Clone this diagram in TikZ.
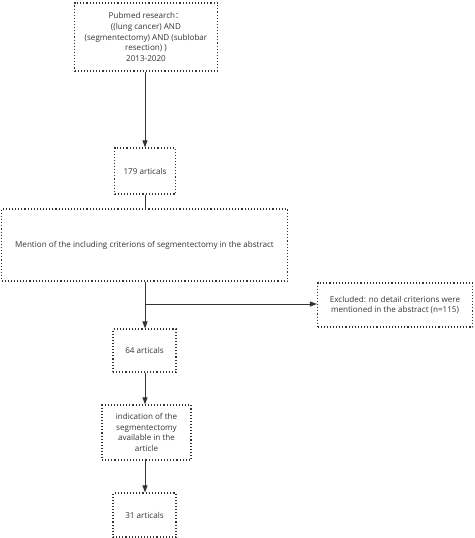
\documentclass[tikz,border=0pt]{standalone}
\usepackage{fontspec}
\setmainfont{Open Sans}
\newfontfamily\cjk{Noto Sans CJK SC}
\usetikzlibrary{arrows.meta}
\definecolor{ink}{HTML}{333333}
\tikzset{
  box/.style={draw=ink, dotted, line width=1.1pt, align=center, text=ink,
    font=\fontsize{8.1}{10.8}\selectfont, inner sep=1pt},
  conn/.style={draw=ink, line width=0.9pt},
  arr/.style={conn, -{Triangle[length=7pt,width=5pt]}}
}
\begin{document}
\begin{tikzpicture}[x=1pt,y=-1pt]
\useasboundingbox (0,0) rectangle (474,538);
\node[box, minimum width=143pt, minimum height=68pt] (b1) at (146,37)
  {Pubmed research{\cjk ：}\\((lung cancer) AND\\(segmentectomy) AND (sublobar\\resection) )\\2013-2020};
\node[box, minimum width=61pt, minimum height=46pt] (b2) at (145,171) {179 articals};
\node[box, minimum width=286pt, minimum height=72pt] (b3) at (144.5,245)
  {Mention of the including criterions of segmentectomy in the abstract};
\node[box, minimum width=63pt, minimum height=43pt] (b4) at (144.5,350.5) {64 articals};
\node[box, minimum width=155pt, minimum height=44pt] (ex) at (395,305)
  {Excluded: no detail criterions were\\mentioned in the abstract (n=115)};
\node[box, minimum width=89pt, minimum height=55pt] (b5) at (146.5,432.5)
  {indication of the\\segmentectomy\\available in the\\article};
\node[box, minimum width=63pt, minimum height=44pt] (b6) at (144.5,515) {31 articals};
\coordinate (br) at (145,304);
\draw[arr] (b1.south -| br) -- (b2.north -| br);
\draw[conn] (b2.south -| br) -- (b3.north -| br);
\draw[conn] (b3.south -| br) -- (br);
\draw[arr] (br) -- (b4.north -| br);
\draw[arr] (br) -- (ex.west |- br);
\draw[arr] (b4.south -| br) -- (b5.north -| br);
\draw[arr] (b5.south -| br) -- (b6.north -| br);
\end{tikzpicture}
\end{document}
